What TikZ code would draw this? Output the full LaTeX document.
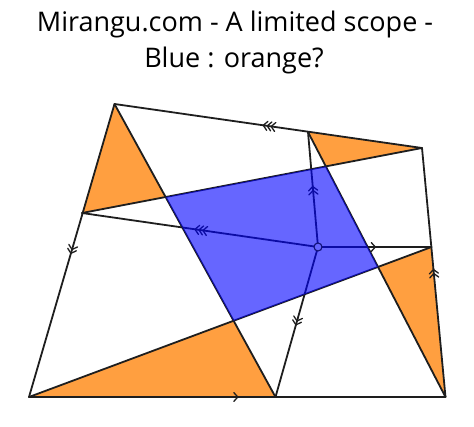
\documentclass[tikz,border=0pt]{standalone}
\usepackage{fontspec}
\setmainfont{Open Sans}
\usetikzlibrary{decorations.markings,calc}
\definecolor{lin}{RGB}{30,30,30}
\definecolor{orng}{RGB}{255,127,0}
\tikzset{
  seg/.style={draw=lin,line width=1.8pt,line cap=round,line join=round},
  chev/.style={draw=lin,line width=1.3pt,line cap=round,line join=round},
  arrI/.style={postaction={decorate,decoration={markings,mark=at position 0.5 with {\draw[chev] (-3.5pt,4.5pt)--(0.5pt,0pt)--(-3.5pt,-4.5pt);}}}},
  arrII/.style={postaction={decorate,decoration={markings,mark=at position 0.5 with {\draw[chev] (-5pt,4.5pt)--(-1pt,0pt)--(-5pt,-4.5pt); \draw[chev] (-1pt,4.5pt)--(3pt,0pt)--(-1pt,-4.5pt);}}}},
  arrIII/.style={postaction={decorate,decoration={markings,mark=at position 0.5 with {\draw[chev] (-7pt,4.5pt)--(-3pt,0pt)--(-7pt,-4.5pt); \draw[chev] (-3pt,4.5pt)--(1pt,0pt)--(-3pt,-4.5pt); \draw[chev] (1pt,4.5pt)--(5pt,0pt)--(1pt,-4.5pt);}}}},
  ofill/.style={fill=orng,fill opacity=0.75},
  bfill/.style={fill=blue,fill opacity=0.6},
  ttl/.style={anchor=base,inner sep=0pt,font=\fontsize{27}{30}\selectfont}
}
\begin{document}
\begin{tikzpicture}[x=1pt,y=-1pt]
\useasboundingbox (0,0) rectangle (474,426);
\node[ttl] (t1) at (235,31) {Mirangu.com - A limited scope -};
\node[ttl] (t2) at (234,67) {Blue : orange?};
% points
\coordinate (A) at (114.5,104);
\coordinate (B) at (422,148);
\coordinate (C) at (431.5,247);
\coordinate (D) at (445.5,397);
\coordinate (E) at (29,397);
\coordinate (F) at (82,213);
\coordinate (P) at (308,132);
\coordinate (Q) at (275.5,397);
\coordinate (O) at (318,247);
\coordinate (X1) at (intersection of A--Q and F--B);
\coordinate (X2) at (intersection of F--B and P--D);
\coordinate (X3) at (intersection of P--D and E--C);
\coordinate (X4) at (intersection of E--C and A--Q);
% orange triangles
\path[ofill] (A) -- (F) -- (X1) -- cycle;
\path[ofill] (P) -- (B) -- (X2) -- cycle;
\path[ofill] (C) -- (D) -- (X3) -- cycle;
\path[ofill] (E) -- (Q) -- (X4) -- cycle;
% lines
\draw[seg,arrIII] (B) -- (A);
\draw[seg,arrII] (D) -- (B);
\draw[seg,arrI] (E) -- (D);
\draw[seg,arrII] (A) -- (E);
\draw[seg] (A) -- (Q);
\draw[seg] (F) -- (B);
\draw[seg] (P) -- (D);
\draw[seg] (E) -- (C);
\draw[seg,arrIII] (O) -- (F);
\draw[seg,arrII] (O) -- (P);
\draw[seg,arrI] (O) -- (C);
\draw[seg,arrII] (O) -- (Q);
% blue quadrilateral
\path[bfill] (X1) -- (X2) -- (X3) -- (X4) -- cycle;
\node[circle,draw=lin!60!blue,fill=blue!60,line width=1.1pt,minimum size=8pt,inner sep=0pt] (Odot) at (O) {};
\end{tikzpicture}
\end{document}
